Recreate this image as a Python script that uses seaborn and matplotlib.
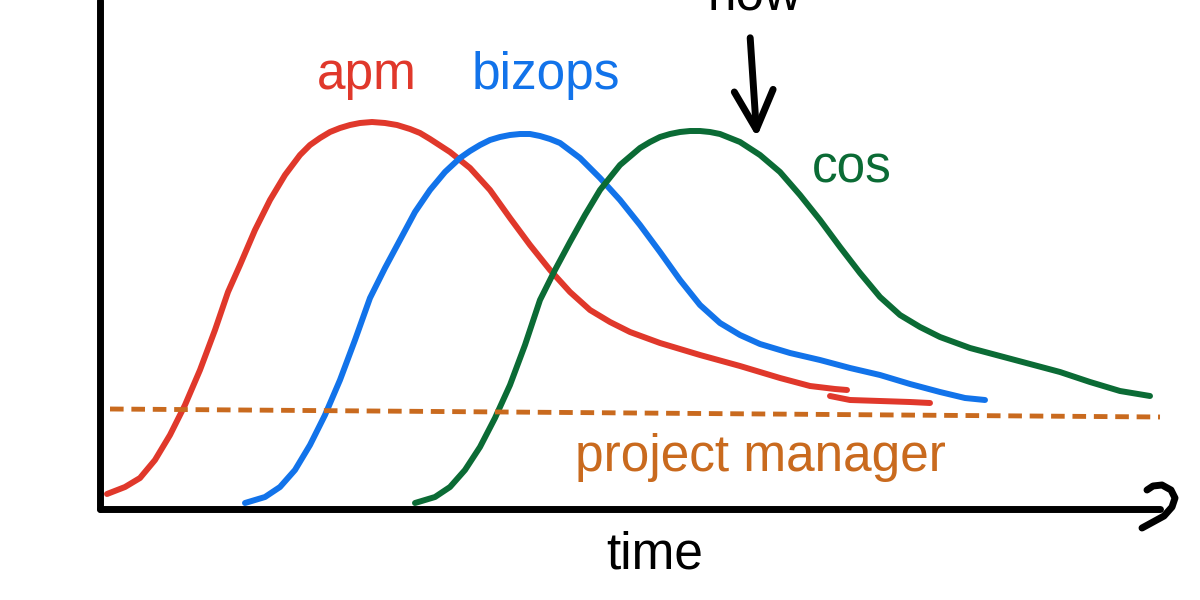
import seaborn as sns
import numpy as np
import pandas as pd
import matplotlib.pyplot as plt

# curves (x = time, y = level)
apm_x = [7, 25, 40, 55, 70, 85, 100, 115, 128, 140, 155, 170, 185, 200, 210, 220, 230, 240, 250, 260, 272, 285,
         297, 310, 320, 330, 350, 370, 390, 410, 430, 450, 470, 490, 510, 530, 560, 600, 640, 680, 710, 735, 747]
apm_y = [15, 22, 31, 49, 74, 104, 139, 179, 217, 244, 279, 309, 334, 354, 364, 371, 377, 381, 384, 386, 387, 386,
         384, 380, 376, 370, 357, 341, 319, 291, 264, 239, 217, 199, 187, 177, 166, 154, 143, 131, 123, 120, 119]
apm_tail_x = [730, 750, 780, 810, 830]
apm_tail_y = [113, 109, 108, 107, 106]

bizops_x = [145, 165, 180, 195, 210, 225, 240, 255, 270, 285, 300, 315, 330, 345, 360, 370, 380, 390, 400, 410,
            420, 430, 440, 450, 460, 480, 500, 520, 540, 560, 580, 600, 620, 640, 660, 690, 720, 750, 780, 810,
            840, 865, 885]
bizops_y = [6, 12, 22, 39, 64, 94, 129, 169, 211, 241, 269, 297, 319, 337, 351, 358, 364, 369, 372, 374,
            375, 375, 373, 370, 366, 351, 331, 309, 284, 257, 229, 204, 186, 174, 165, 156, 149, 141, 134, 125,
            117, 111, 109]

cos_x = [315, 335, 350, 365, 380, 395, 410, 425, 440, 455, 470, 485, 500, 520, 540, 550, 560, 570, 580, 590,
         600, 610, 620, 630, 640, 660, 680, 700, 720, 740, 760, 780, 800, 820, 840, 870, 900, 930, 960, 990,
         1020, 1050]
cos_y = [6, 12, 22, 39, 62, 91, 124, 164, 209, 239, 267, 294, 319, 344, 361, 367, 372, 375, 377, 378,
         378, 377, 375, 371, 367, 354, 337, 314, 289, 262, 236, 212, 194, 182, 172, 161, 153, 145, 137, 127,
         118, 113]

pm_x = [10, 1060]
pm_y = [100, 92]

hook_x = [1047, 1053, 1062, 1071, 1075, 1072, 1064, 1053, 1042]
hook_y = [19, 23, 24, 19, 11, 2, -7, -13, -19]

RED = '#e0382b'
BLUE = '#1273ea'
GREEN = '#0b6b35'
ORANGE = '#c96a1e'

sns.set_style('white')
plt.rcParams['font.family'] = ['Liberation Sans', 'DejaVu Sans']

fig = plt.figure(figsize=(12, 6), dpi=100)
ax = fig.add_axes([0, 0, 1, 1])
ax.set_xlim(-100, 1100)
ax.set_ylim(-91, 509)

lw = 4.3
style = dict(sort=False, lw=lw, ax=ax, solid_capstyle='round', solid_joinstyle='round')
sns.lineplot(x=apm_x, y=apm_y, color=RED, **style)
sns.lineplot(x=apm_tail_x, y=apm_tail_y, color=RED, **style)
sns.lineplot(x=bizops_x, y=bizops_y, color=BLUE, **style)
sns.lineplot(x=cos_x, y=cos_y, color=GREEN, **style)
ax.plot(pm_x, pm_y, color=ORANGE, lw=3.5, linestyle=(0, (2.8, 1.6)))

# axes drawn as thick hand-drawn lines
ax.plot([0, 0], [0, 509], color='black', lw=5, solid_capstyle='round')
ax.plot([0, 1060], [0, 0], color='black', lw=5, solid_capstyle='round')
ax.plot(hook_x, hook_y, color='black', lw=5, solid_capstyle='round', solid_joinstyle='round')

fs = 37
ax.text(267, 434, 'apm', color=RED, fontsize=fs, ha='center', va='center')
ax.text(446, 434, 'bizops', color=BLUE, fontsize=fs, ha='center', va='center')
ax.text(752, 340, 'cos', color=GREEN, fontsize=fs, ha='center', va='center')
ax.text(660, 52, 'project manager', color=ORANGE, fontsize=fs, ha='center', va='center')
ax.text(555, -46, 'time', color='black', fontsize=fs, ha='center', va='center')
ax.text(655, 512, 'now', color='black', fontsize=fs, ha='center', va='center')
ax.annotate('', xy=(657, 369), xytext=(650, 474),
            arrowprops=dict(arrowstyle='->,head_length=0.7,head_width=0.35', color='black', lw=5,
                            mutation_scale=40, capstyle='round', joinstyle='round'))

ax.axis('off')
plt.savefig('out.png', dpi=100)
